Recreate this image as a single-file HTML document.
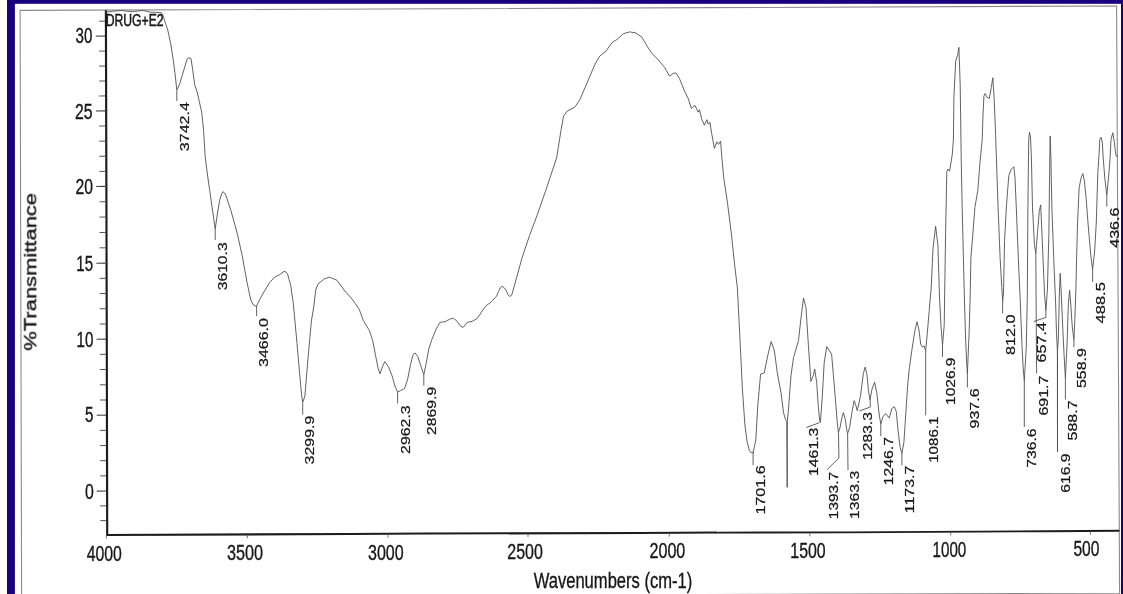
<!DOCTYPE html>
<html><head><meta charset="utf-8"><title>FTIR DRUG+E2</title>
<style>
html,body{margin:0;padding:0;background:#fff;}
body{width:1123px;height:594px;overflow:hidden;}
svg{display:block;}
text{font-family:"Liberation Sans",sans-serif;fill:#151515;stroke:#151515;stroke-width:0.35px;}
</style></head><body>
<svg width="1123" height="594" viewBox="0 0 1123 594">
<defs><filter id="b" x="-5%" y="-5%" width="110%" height="110%"><feGaussianBlur stdDeviation="0.45"/></filter>
<filter id="b2" x="-5%" y="-5%" width="110%" height="110%"><feGaussianBlur stdDeviation="0.35"/></filter></defs>
<rect x="0" y="0" width="1123" height="594" fill="#ffffff"/>
<linearGradient id="cg" x1="0" x2="1" y1="0" y2="0"><stop offset="0" stop-color="#fffff0"/><stop offset="0.75" stop-color="#ffffff"/></linearGradient><rect x="0" y="0" width="7.2" height="594" fill="url(#cg)"/>

<rect x="7" y="0" width="7.9" height="594" fill="#19007c"/>
<rect x="7" y="0" width="1116" height="3.8" fill="#19007c"/>
<rect x="1121" y="0" width="2" height="594" fill="#19007c"/>
<g filter="url(#b2)"><polyline points="21.6,594 20.1,10.4 1116.6,6 1119.6,593.2 700,594.6" fill="none" stroke="#8a8a8a" stroke-width="1.1"/></g>
<g filter="url(#b)">
<polyline points="105.9,10.2 106.8,350 107.2,535.0 350,534.0 426,533.5 640,533.0 716,532.55" fill="none" stroke="#1c1c1c" stroke-width="2.15" stroke-linejoin="miter"/>
<polyline points="715,532.56 843,532.3 1047,531.2 1119.4,530.7" fill="none" stroke="#1c1c1c" stroke-width="1.85"/>
<line x1="100.3" y1="520.6" x2="106.3" y2="520.6" stroke="#404040" stroke-width="0.9"/>
<line x1="100.2" y1="505.9" x2="106.2" y2="505.8" stroke="#404040" stroke-width="0.9"/>
<line x1="96.9" y1="491.1" x2="106.2" y2="491.0" stroke="#444" stroke-width="1.1"/>
<line x1="100.2" y1="475.9" x2="106.2" y2="475.8" stroke="#404040" stroke-width="0.9"/>
<line x1="100.1" y1="460.7" x2="106.1" y2="460.7" stroke="#404040" stroke-width="0.9"/>
<line x1="100.1" y1="445.6" x2="106.1" y2="445.5" stroke="#404040" stroke-width="0.9"/>
<line x1="100.0" y1="430.4" x2="106.0" y2="430.4" stroke="#404040" stroke-width="0.9"/>
<line x1="96.7" y1="415.2" x2="106.0" y2="415.2" stroke="#444" stroke-width="1.1"/>
<line x1="100.0" y1="400.0" x2="106.0" y2="400.0" stroke="#404040" stroke-width="0.9"/>
<line x1="99.9" y1="384.8" x2="105.9" y2="384.8" stroke="#404040" stroke-width="0.9"/>
<line x1="99.9" y1="369.6" x2="105.9" y2="369.5" stroke="#404040" stroke-width="0.9"/>
<line x1="99.9" y1="354.4" x2="105.9" y2="354.3" stroke="#404040" stroke-width="0.9"/>
<line x1="96.5" y1="339.2" x2="105.8" y2="339.1" stroke="#444" stroke-width="1.1"/>
<line x1="99.8" y1="324.0" x2="105.8" y2="323.9" stroke="#404040" stroke-width="0.9"/>
<line x1="99.7" y1="308.8" x2="105.7" y2="308.7" stroke="#404040" stroke-width="0.9"/>
<line x1="99.7" y1="293.6" x2="105.7" y2="293.5" stroke="#404040" stroke-width="0.9"/>
<line x1="99.7" y1="278.4" x2="105.7" y2="278.3" stroke="#404040" stroke-width="0.9"/>
<line x1="96.3" y1="263.2" x2="105.6" y2="263.1" stroke="#444" stroke-width="1.1"/>
<line x1="99.6" y1="247.8" x2="105.6" y2="247.8" stroke="#404040" stroke-width="0.9"/>
<line x1="99.6" y1="232.5" x2="105.6" y2="232.4" stroke="#404040" stroke-width="0.9"/>
<line x1="99.5" y1="217.1" x2="105.5" y2="217.1" stroke="#404040" stroke-width="0.9"/>
<line x1="99.5" y1="201.8" x2="105.5" y2="201.7" stroke="#404040" stroke-width="0.9"/>
<line x1="96.1" y1="186.5" x2="105.4" y2="186.4" stroke="#444" stroke-width="1.1"/>
<line x1="99.4" y1="171.4" x2="105.4" y2="171.3" stroke="#404040" stroke-width="0.9"/>
<line x1="99.4" y1="156.3" x2="105.4" y2="156.2" stroke="#404040" stroke-width="0.9"/>
<line x1="99.3" y1="141.2" x2="105.3" y2="141.1" stroke="#404040" stroke-width="0.9"/>
<line x1="99.3" y1="126.0" x2="105.3" y2="126.0" stroke="#404040" stroke-width="0.9"/>
<line x1="95.9" y1="111.0" x2="105.2" y2="110.9" stroke="#444" stroke-width="1.1"/>
<line x1="99.2" y1="96.0" x2="105.2" y2="95.9" stroke="#404040" stroke-width="0.9"/>
<line x1="99.2" y1="81.0" x2="105.2" y2="81.0" stroke="#404040" stroke-width="0.9"/>
<line x1="99.1" y1="66.1" x2="105.1" y2="66.0" stroke="#404040" stroke-width="0.9"/>
<line x1="99.1" y1="51.1" x2="105.1" y2="51.1" stroke="#404040" stroke-width="0.9"/>
<line x1="95.8" y1="36.1" x2="105.1" y2="36.1" stroke="#444" stroke-width="1.1"/>
<line x1="99.0" y1="21.2" x2="105.0" y2="21.1" stroke="#404040" stroke-width="0.9"/>
<line x1="106.3" y1="535.5" x2="106.3" y2="538.8" stroke="#666" stroke-width="0.9"/>
<line x1="247.4" y1="534.9" x2="247.4" y2="538.2" stroke="#666" stroke-width="0.9"/>
<line x1="387.9" y1="534.3" x2="387.9" y2="537.6" stroke="#666" stroke-width="0.9"/>
<line x1="528.0" y1="533.8" x2="528.0" y2="537.1" stroke="#666" stroke-width="0.9"/>
<line x1="669.2" y1="533.3" x2="669.2" y2="536.6" stroke="#666" stroke-width="0.9"/>
<line x1="809.8" y1="532.9" x2="809.8" y2="536.2" stroke="#666" stroke-width="0.9"/>
<line x1="950.7" y1="532.2" x2="950.7" y2="535.5" stroke="#666" stroke-width="0.9"/>
<line x1="1090.4" y1="531.4" x2="1090.4" y2="534.7" stroke="#666" stroke-width="0.9"/>
<polyline points="105.7,12.2 113.0,11.2 121.7,10.5 127.0,11.2 132.4,11.6 138.0,11.0 143.1,10.5 147.0,11.3 150.6,12.2 156.0,12.3 161.3,12.7 163.0,15.5 164.5,20.2 167.7,29.8 170.9,44.7 173.5,61.8 175.2,75.0 176.8,89.8 178.3,87.0 179.8,83.5 183.5,71.0 187.3,58.6 189.0,57.8 191.0,58.6 192.7,69.8 194.7,84.8 197.2,92.3 201.7,112.2 203.5,129.7 205.2,157.0 207.5,175.0 209.7,190.4 212.5,210.0 215.2,229.0 217.5,213.0 219.7,200.4 221.5,194.0 222.9,191.7 224.4,192.8 225.9,195.4 230.9,210.4 237.1,232.8 242.1,255.2 247.1,282.7 250.8,300.1 253.0,304.5 255.0,306.0 256.6,306.0 259.0,301.0 262.0,295.1 269.5,282.7 274.5,277.2 279.5,274.7 284.0,271.4 286.0,272.0 287.5,273.9 290.7,285.2 293.2,302.6 297.0,343.4 300.7,385.8 302.0,398.0 302.7,402.0 303.6,400.0 304.9,395.8 308.2,355.9 311.4,321.0 313.9,306.0 315.7,290.0 318.1,283.9 324.4,278.9 329.4,277.2 336.9,280.2 344.0,290.0 352.1,299.1 359.2,309.2 363.2,320.3 369.3,330.4 372.7,340.5 375.4,354.6 378.0,367.8 380.0,373.8 382.4,366.8 384.8,361.7 388.5,366.8 392.1,375.9 394.9,386.0 397.6,392.0 400.6,390.6 404.6,388.6 407.7,378.9 410.7,363.7 413.1,354.6 415.2,353.0 417.8,356.7 420.8,365.8 423.8,374.8 425.9,364.7 428.9,348.6 431.9,339.5 436.0,329.4 440.0,322.3 445.1,321.7 450.1,318.9 453.5,318.3 457.2,321.3 460.2,326.0 463.2,327.4 467.3,322.3 472.3,321.3 477.4,318.3 481.4,312.2 485.5,306.2 491.5,301.7 496.6,296.1 498.4,291.4 500.5,287.5 502.2,286.4 504.0,287.5 505.9,290.1 508.0,294.5 509.6,296.4 511.0,295.8 512.1,293.9 515.9,280.2 522.1,257.7 529.6,235.3 537.1,215.3 545.8,190.4 552.0,171.7 556.6,158.0 561.1,129.7 563.6,116.0 567.3,111.0 574.8,107.2 579.8,99.8 587.3,82.3 594.7,64.8 599.7,56.1 606.0,51.1 612.2,42.4 617.2,39.4 623.4,33.7 629.6,31.9 635.9,32.9 642.1,37.4 647.1,46.2 652.1,53.6 658.3,59.9 664.5,67.3 669.5,76.1 672.5,74.0 675.8,72.8 679.5,78.6 684.5,91.0 688.2,98.5 691.5,108.5 693.3,106.5 695.0,105.5 698.2,112.2 699.4,109.7 701.9,119.7 704.4,125.2 706.9,119.7 708.2,124.2 709.9,122.2 711.9,134.7 714.4,148.4 716.9,141.8 718.6,144.4 720.6,141.0 721.9,158.0 723.7,177.4 727.4,202.3 731.2,232.2 734.9,267.1 737.4,288.0 739.9,337.9 742.4,389.0 744.9,424.9 747.0,441.0 749.4,450.6 751.2,452.9 752.7,452.1 753.1,453.5 754.2,447.6 755.8,440.0 757.8,405.0 760.6,374.0 764.3,372.8 767.8,355.3 771.1,341.6 774.3,350.3 777.3,372.8 781.0,392.7 783.5,412.7 785.5,419.5 786.8,421.5 787.2,487.3 787.3,421.5 788.5,409.0 791.0,375.3 793.5,357.8 798.5,340.4 801.0,317.9 803.5,298.0 806.0,307.9 808.4,345.3 810.9,381.5 813.4,375.3 814.7,369.0 816.7,382.7 818.4,407.7 819.6,420.0 820.4,422.4 822.2,398.0 824.2,362.8 826.7,346.6 829.1,350.3 831.6,354.1 833.4,375.3 835.9,405.2 837.4,424.0 838.4,432.4 840.0,427.5 841.6,419.0 843.4,412.6 845.2,419.0 846.6,429.0 847.6,433.7 849.6,427.5 852.3,410.1 854.1,400.7 855.8,405.1 857.2,410.6 858.8,404.0 860.5,395.7 863.4,373.3 865.2,367.1 867.0,375.0 868.5,391.0 870.0,400.0 871.9,389.5 874.6,382.1 876.9,393.5 879.1,414.0 880.8,424.0 882.8,417.0 885.6,413.6 889.3,418.0 891.8,408.5 894.3,406.8 896.3,411.6 898.1,431.0 900.2,447.4 901.9,453.6 903.9,442.4 905.7,415.0 907.8,383.3 909.4,367.8 911.8,350.5 914.9,330.6 917.0,321.7 919.0,330.0 920.7,344.3 922.6,347.2 924.1,345.8 925.7,350.6 927.3,333.2 929.2,310.7 931.2,288.0 933.0,248.7 935.6,226.3 937.9,245.0 939.5,297.0 941.0,325.9 942.5,345.0 944.2,325.6 945.6,232.8 946.8,171.6 947.9,169.0 949.6,171.2 950.9,163.0 952.2,155.0 953.4,140.0 953.9,97.3 955.7,61.1 957.7,54.9 958.9,47.4 960.2,84.8 961.2,158.0 962.2,207.9 963.4,257.7 964.6,306.0 965.6,338.0 966.5,360.0 967.4,374.2 968.2,354.0 969.1,333.4 970.2,296.0 970.9,257.7 972.4,240.0 974.9,207.3 977.8,190.5 980.0,161.9 982.2,140.0 982.9,118.0 983.9,96.0 985.1,93.5 987.1,97.3 989.3,98.5 991.3,87.3 992.8,77.8 994.1,97.3 995.6,134.7 996.4,158.0 998.1,207.9 1000.1,257.7 1001.8,287.6 1002.7,301.0 1003.5,292.0 1004.6,240.3 1006.3,207.9 1008.8,175.5 1011.3,169.2 1013.8,166.7 1015.0,177.9 1016.3,207.9 1018.3,257.7 1020.2,300.0 1022.0,345.9 1023.3,370.0 1024.3,380.8 1025.2,366.0 1026.3,345.9 1027.3,296.0 1027.9,207.9 1028.7,140.0 1029.5,132.2 1030.5,137.2 1031.4,158.0 1032.5,207.9 1034.5,245.3 1035.8,253.8 1037.5,232.8 1039.2,211.6 1040.7,204.9 1041.7,227.8 1043.3,265.0 1044.6,295.0 1045.9,310.2 1047.4,290.0 1048.9,232.8 1049.8,158.0 1050.2,135.9 1050.9,158.0 1051.9,207.9 1053.7,257.7 1055.7,305.0 1056.5,333.4 1057.4,350.0 1057.5,452.0 1057.5,350.0 1058.3,340.0 1059.3,296.0 1060.2,273.3 1061.1,290.0 1062.4,320.0 1063.8,350.0 1065.4,378.3 1067.0,345.0 1068.4,303.5 1069.6,290.3 1070.8,305.0 1072.2,326.0 1073.9,339.6 1074.8,320.9 1075.9,290.0 1076.6,257.7 1077.5,225.0 1079.1,187.9 1081.1,177.9 1082.8,173.5 1084.3,180.4 1086.1,197.9 1088.4,228.0 1090.8,255.3 1092.6,269.5 1094.6,252.0 1096.3,222.0 1097.8,173.0 1099.0,155.0 1099.8,139.6 1101.0,137.2 1102.3,142.1 1103.2,158.0 1104.8,177.9 1106.8,195.4 1108.5,177.9 1110.1,158.0 1111.0,139.6 1112.8,132.7 1114.3,142.1 1115.4,151.5 1116.2,156.2 1117.9,156.4" fill="none" stroke="#505050" stroke-width="0.9" stroke-linejoin="round"/>
<polyline points="176.8,89.8 176.8,101.0" fill="none" stroke="#505050" stroke-width="0.9"/>
<polyline points="215.2,229.0 215.2,240.0" fill="none" stroke="#505050" stroke-width="0.9"/>
<polyline points="256.6,306.0 256.6,316.0" fill="none" stroke="#505050" stroke-width="0.9"/>
<polyline points="302.7,402.0 302.7,414.5" fill="none" stroke="#505050" stroke-width="0.9"/>
<polyline points="397.6,392.0 397.6,403.4" fill="none" stroke="#505050" stroke-width="0.9"/>
<polyline points="423.8,374.8 423.8,385.7" fill="none" stroke="#505050" stroke-width="0.9"/>
<polyline points="753.1,453.5 753.1,465.0" fill="none" stroke="#505050" stroke-width="0.9"/>
<polyline points="819.6,422.6 806.3,427.6" fill="none" stroke="#505050" stroke-width="0.9"/>
<polyline points="838.5,432.4 838.9,458.0 827.1,469.6" fill="none" stroke="#505050" stroke-width="0.9"/>
<polyline points="847.6,433.7 848.0,470.0" fill="none" stroke="#505050" stroke-width="0.9"/>
<polyline points="870.2,400.0 870.3,407.0 859.4,411.0" fill="none" stroke="#505050" stroke-width="0.9"/>
<polyline points="880.8,424.0 880.8,436.2" fill="none" stroke="#505050" stroke-width="0.9"/>
<polyline points="901.9,453.6 901.9,465.3" fill="none" stroke="#505050" stroke-width="0.9"/>
<polyline points="925.7,350.6 925.7,415.4" fill="none" stroke="#505050" stroke-width="0.9"/>
<polyline points="942.5,345.0 942.5,356.9" fill="none" stroke="#505050" stroke-width="0.9"/>
<polyline points="967.4,374.2 967.4,387.4" fill="none" stroke="#505050" stroke-width="0.9"/>
<polyline points="1002.7,301.0 1002.6,313.5" fill="none" stroke="#505050" stroke-width="0.9"/>
<polyline points="1024.3,380.8 1024.3,427.0" fill="none" stroke="#505050" stroke-width="0.9"/>
<polyline points="1035.8,253.8 1036.6,373.3" fill="none" stroke="#505050" stroke-width="0.9"/>
<polyline points="1045.9,310.2 1045.9,317.4 1033.7,321.5" fill="none" stroke="#505050" stroke-width="0.9"/>
<polyline points="1065.4,378.3 1065.4,399.6" fill="none" stroke="#505050" stroke-width="0.9"/>
<polyline points="1073.9,339.6 1073.9,347.2" fill="none" stroke="#505050" stroke-width="0.9"/>
<polyline points="1092.6,269.5 1092.6,281.8" fill="none" stroke="#505050" stroke-width="0.9"/>
<polyline points="1106.8,195.4 1106.8,206.7" fill="none" stroke="#505050" stroke-width="0.9"/>
</g>
<g filter="url(#b2)">
<text x="75.5" y="43.2" font-size="21.5" textLength="16.8" lengthAdjust="spacingAndGlyphs">30</text>
<text x="75.0" y="118.5" font-size="21.5" textLength="17.6" lengthAdjust="spacingAndGlyphs">25</text>
<text x="75.6" y="194.0" font-size="21.5" textLength="17.5" lengthAdjust="spacingAndGlyphs">20</text>
<text x="76.3" y="270.5" font-size="21.5" textLength="16.8" lengthAdjust="spacingAndGlyphs">15</text>
<text x="76.6" y="347.1" font-size="21.5" textLength="16.9" lengthAdjust="spacingAndGlyphs">10</text>
<text x="85.1" y="422.4" font-size="21.5" textLength="8.4" lengthAdjust="spacingAndGlyphs">5</text>
<text x="84.9" y="498.6" font-size="21.5" textLength="8.8" lengthAdjust="spacingAndGlyphs">0</text>
<text x="86.7" y="560.8" font-size="21.5" textLength="35.2" lengthAdjust="spacingAndGlyphs">4000</text>
<text x="227.0" y="560.1" font-size="21.5" textLength="36.1" lengthAdjust="spacingAndGlyphs">3500</text>
<text x="368.0" y="559.5" font-size="21.5" textLength="35.7" lengthAdjust="spacingAndGlyphs">3000</text>
<text x="507.3" y="558.8" font-size="21.5" textLength="35.6" lengthAdjust="spacingAndGlyphs">2500</text>
<text x="649.5" y="558.2" font-size="21.5" textLength="35.8" lengthAdjust="spacingAndGlyphs">2000</text>
<text x="790.3" y="557.5" font-size="21.5" textLength="35.4" lengthAdjust="spacingAndGlyphs">1500</text>
<text x="932.5" y="556.9" font-size="21.5" textLength="33.8" lengthAdjust="spacingAndGlyphs">1000</text>
<text x="1073.4" y="556.2" font-size="21.5" textLength="26.0" lengthAdjust="spacingAndGlyphs">500</text>
<text x="533.7" y="587.8" font-size="21.2" textLength="158.6" lengthAdjust="spacingAndGlyphs">Wavenumbers (cm-1)</text>
<text x="105.7" y="25.5" font-size="16.2" textLength="57.9" lengthAdjust="spacingAndGlyphs" style="stroke-width:0.5px">DRUG+E2</text>
<text transform="translate(36.2,350.7) rotate(-90)" font-size="15.6" textLength="157.8" style="stroke-width:0.3px" lengthAdjust="spacingAndGlyphs">%Transmittance</text>
<text transform="translate(188.7,151.2) rotate(-90)" font-size="12.7" textLength="49.1" lengthAdjust="spacingAndGlyphs" style="stroke-width:0.22px">3742.4</text>
<text transform="translate(226.9,290.2) rotate(-90)" font-size="13.0" textLength="47.8" lengthAdjust="spacingAndGlyphs" style="stroke-width:0.22px">3610.3</text>
<text transform="translate(267.6,367.0) rotate(-90)" font-size="13.1" textLength="48.9" lengthAdjust="spacingAndGlyphs" style="stroke-width:0.22px">3466.0</text>
<text transform="translate(313.9,464.4) rotate(-90)" font-size="13.1" textLength="48.8" lengthAdjust="spacingAndGlyphs" style="stroke-width:0.22px">3299.9</text>
<text transform="translate(409.6,453.9) rotate(-90)" font-size="13.1" textLength="48.6" lengthAdjust="spacingAndGlyphs" style="stroke-width:0.22px">2962.3</text>
<text transform="translate(435.6,435.0) rotate(-90)" font-size="13.0" textLength="48.2" lengthAdjust="spacingAndGlyphs" style="stroke-width:0.22px">2869.9</text>
<text transform="translate(765.3,514.6) rotate(-90)" font-size="13.0" textLength="49.2" lengthAdjust="spacingAndGlyphs" style="stroke-width:0.22px">1701.6</text>
<text transform="translate(817.8,476.0) rotate(-90)" font-size="12.7" textLength="48.4" lengthAdjust="spacingAndGlyphs" style="stroke-width:0.22px">1461.3</text>
<text transform="translate(838.4,519.2) rotate(-90)" font-size="12.8" textLength="47.2" lengthAdjust="spacingAndGlyphs" style="stroke-width:0.22px">1393.7</text>
<text transform="translate(859.2,519.0) rotate(-90)" font-size="13.1" textLength="48.2" lengthAdjust="spacingAndGlyphs" style="stroke-width:0.22px">1363.3</text>
<text transform="translate(871.6,459.8) rotate(-90)" font-size="13.0" textLength="47.6" lengthAdjust="spacingAndGlyphs" style="stroke-width:0.22px">1283.3</text>
<text transform="translate(892.9,485.2) rotate(-90)" font-size="13.0" textLength="48.1" lengthAdjust="spacingAndGlyphs" style="stroke-width:0.22px">1246.7</text>
<text transform="translate(913.8,513.2) rotate(-90)" font-size="13.0" textLength="47.6" lengthAdjust="spacingAndGlyphs" style="stroke-width:0.22px">1173.7</text>
<text transform="translate(937.6,462.8) rotate(-90)" font-size="13.0" textLength="46.2" lengthAdjust="spacingAndGlyphs" style="stroke-width:0.22px">1086.1</text>
<text transform="translate(954.7,405.0) rotate(-90)" font-size="13.0" textLength="47.5" lengthAdjust="spacingAndGlyphs" style="stroke-width:0.22px">1026.9</text>
<text transform="translate(979.4,428.5) rotate(-90)" font-size="13.0" textLength="40.1" lengthAdjust="spacingAndGlyphs" style="stroke-width:0.22px">937.6</text>
<text transform="translate(1014.6,355.0) rotate(-90)" font-size="13.1" textLength="40.6" lengthAdjust="spacingAndGlyphs" style="stroke-width:0.22px">812.0</text>
<text transform="translate(1035.8,467.8) rotate(-90)" font-size="13.0" textLength="39.4" lengthAdjust="spacingAndGlyphs" style="stroke-width:0.22px">736.6</text>
<text transform="translate(1048.2,415.6) rotate(-90)" font-size="13.1" textLength="40.1" lengthAdjust="spacingAndGlyphs" style="stroke-width:0.22px">691.7</text>
<text transform="translate(1045.8,362.4) rotate(-90)" font-size="13.1" textLength="40.5" lengthAdjust="spacingAndGlyphs" style="stroke-width:0.22px">657.4</text>
<text transform="translate(1069.5,492.7) rotate(-90)" font-size="13.0" textLength="39.3" lengthAdjust="spacingAndGlyphs" style="stroke-width:0.22px">616.9</text>
<text transform="translate(1077.0,440.5) rotate(-90)" font-size="13.0" textLength="40.1" lengthAdjust="spacingAndGlyphs" style="stroke-width:0.22px">588.7</text>
<text transform="translate(1085.6,388.1) rotate(-90)" font-size="13.0" textLength="40.0" lengthAdjust="spacingAndGlyphs" style="stroke-width:0.22px">558.9</text>
<text transform="translate(1104.8,323.4) rotate(-90)" font-size="13.0" textLength="41.2" lengthAdjust="spacingAndGlyphs" style="stroke-width:0.22px">488.5</text>
<text transform="translate(1119.2,247.7) rotate(-90)" font-size="13.0" textLength="40.1" lengthAdjust="spacingAndGlyphs" style="stroke-width:0.22px">436.6</text>
</g>
</svg></body></html>
